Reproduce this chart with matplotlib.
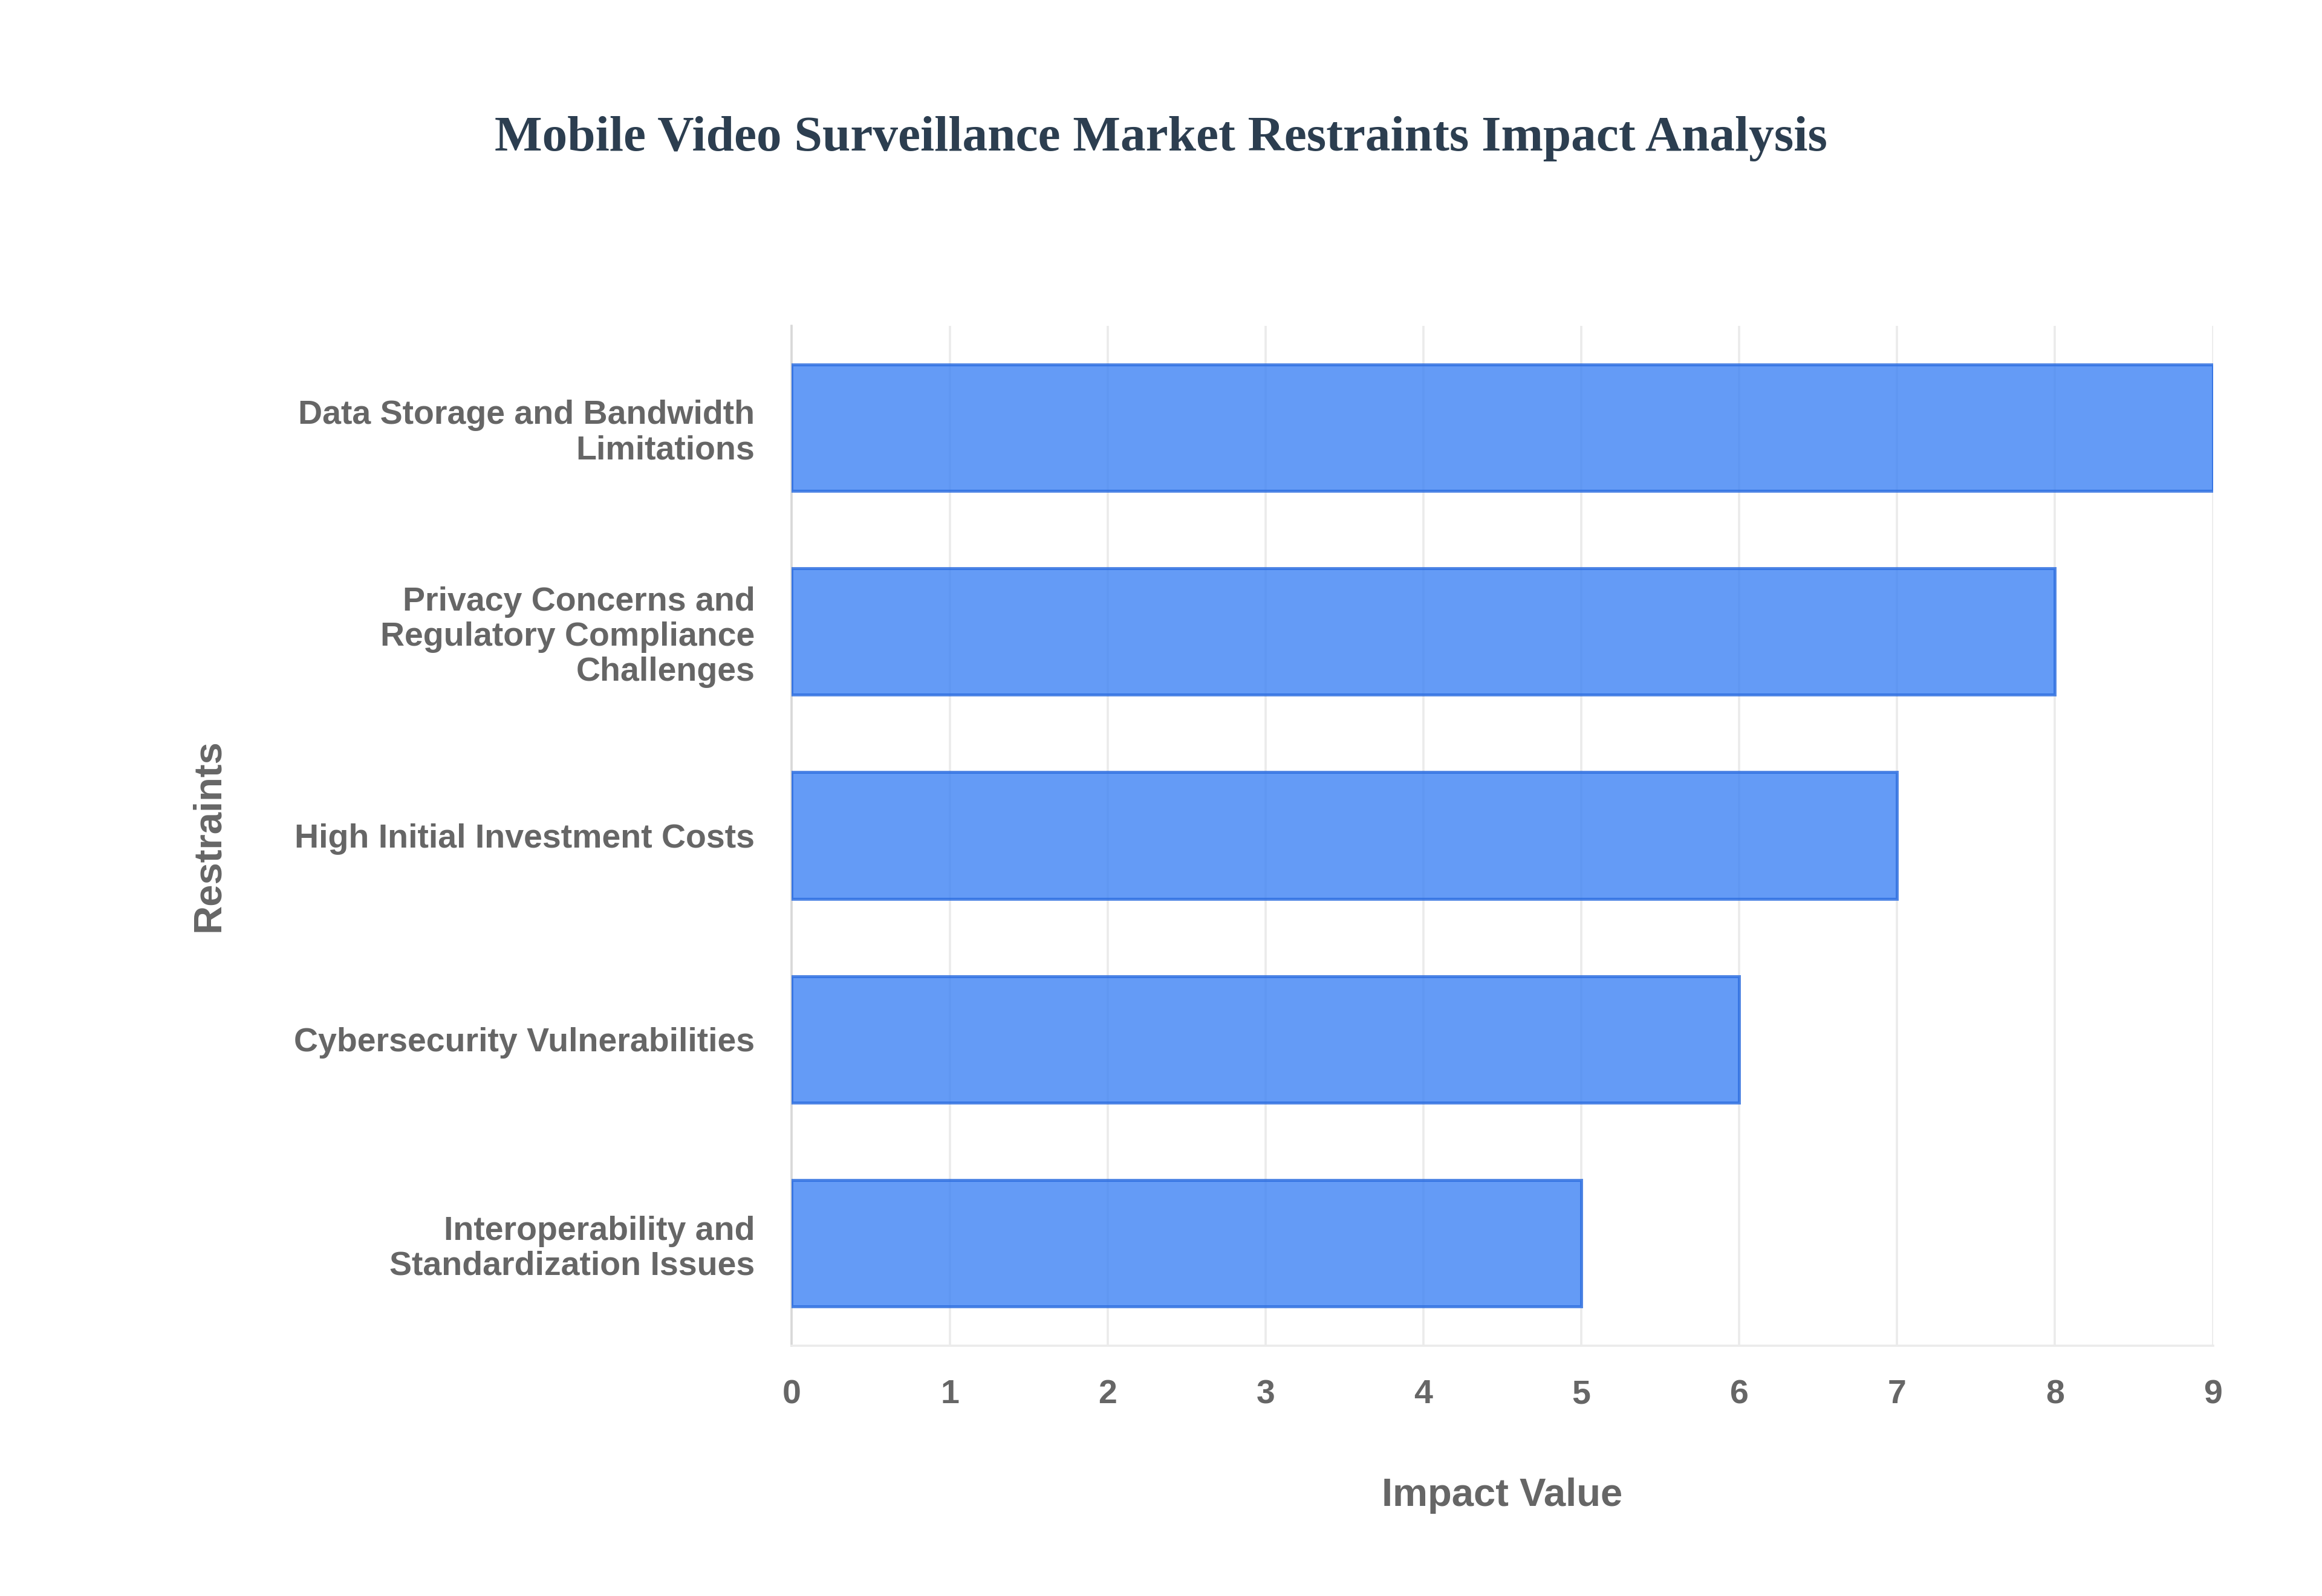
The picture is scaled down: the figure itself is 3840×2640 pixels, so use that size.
import matplotlib
matplotlib.use("Agg")
import matplotlib.pyplot as plt

categories = ["Data Storage and Bandwidth\nLimitations",
              "Privacy Concerns and\nRegulatory Compliance\nChallenges",
              "High Initial Investment Costs",
              "Cybersecurity Vulnerabilities",
              "Interoperability and\nStandardization Issues"]
values = [9, 8, 7, 6, 5]
xticks = list(range(10))

fig = plt.figure(figsize=(19.2, 13.2), dpi=200)
ax = fig.add_axes([0.341, 0.157, 0.612, 0.639])
ypos = list(range(len(categories)))
ax.barh(ypos, values, height=0.62, color="#4285F4", alpha=0.82,
        edgecolor="#2f6fe0", linewidth=1.8, zorder=3)
ax.set_ylim(len(categories) - 0.5, -0.5)
ax.set_xlim(0, 9)
ax.set_xticks(xticks)
ax.set_yticks(ypos)
ax.set_yticklabels(categories, linespacing=1.15)
for t in ax.get_yticklabels() + ax.get_xticklabels():
    t.set_fontfamily("Liberation Sans"); t.set_fontweight("bold")
    t.set_fontsize(20); t.set_color("#666666")
ax.tick_params(axis="y", length=0, pad=22)
ax.tick_params(axis="x", length=0, pad=20)
ax.grid(axis="x", color="#ebebeb", linewidth=1.3, zorder=0)
for s in ["top", "right"]:
    ax.spines[s].set_visible(False)
ax.spines["left"].set_color("#d8d8d8"); ax.spines["left"].set_linewidth(1.3)
ax.spines["bottom"].set_color("#ebebeb"); ax.spines["bottom"].set_linewidth(1.3)
ax.set_xlabel("Impact Value", fontfamily="Liberation Sans", fontweight="bold",
              fontsize=23.5, color="#666666", labelpad=40)
ax.set_ylabel("Restraints", fontfamily="Liberation Sans", fontweight="bold",
              fontsize=23.5, color="#666666", labelpad=40)
fig.text(0.5, 0.913, "Mobile Video Surveillance Market Restraints Impact Analysis",
         ha="center", va="center", fontfamily="Liberation Serif", fontweight="bold",
         fontsize=30, color="#2c3e50")
fig.savefig("out.png", dpi=200, facecolor="white")
